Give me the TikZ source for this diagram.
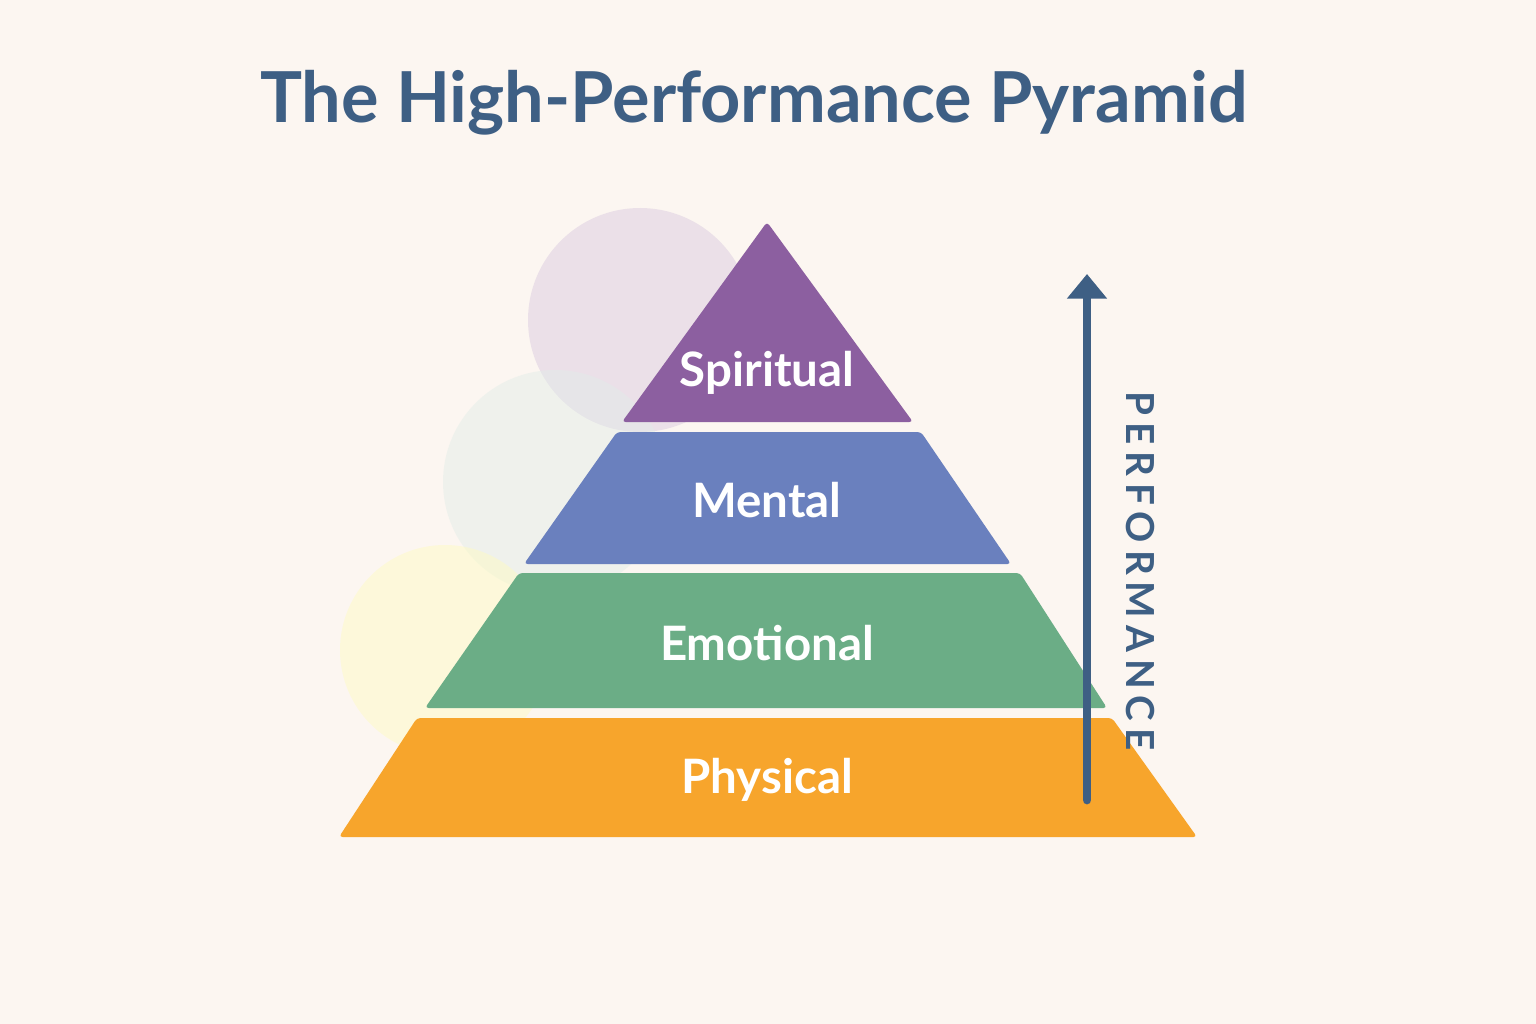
\documentclass[tikz,border=0pt]{standalone}
\usepackage{fontspec}
\setmainfont{Lato}
\usetikzlibrary{arrows.meta}
\definecolor{bgcol}{HTML}{FCF6F1}
\definecolor{titlecol}{HTML}{3E5F84}
\definecolor{spiritcol}{HTML}{8C5FA0}
\definecolor{mentalcol}{HTML}{6A80BE}
\definecolor{emocol}{HTML}{6BAD86}
\definecolor{physcol}{HTML}{F7A52C}
\tikzset{
  layer/.style={rounded corners=2pt},
  lbl/.style={text=white, font=\fontsize{27}{30}\selectfont\bfseries},
  blob/.style={opacity=0.45}
}
\begin{document}
\begin{tikzpicture}[x=0.02cm, y=-0.02cm]
		\fill[bgcol] (0,0) rectangle (1536,1024);
		% soft circles behind
		\fill[blob, fill=spiritcol!35] (640,320) circle (112);
		\fill[blob, fill=mentalcol!15!emocol!20] (555,482) circle (112);
		\fill[blob, fill=yellow!25] (445,650) circle (105);

		\node[text=titlecol, font=\fontsize{40}{44}\selectfont\bfseries] (title) at (754,103) {The High-Performance Pyramid};

		\fill[layer, spiritcol] (767,222) -- (913,422) -- (622,422) -- cycle;
		\fill[layer, mentalcol] (617,432) -- (921,432) -- (1011,564) -- (524,564) -- cycle;
		\fill[layer, emocol] (519,573) -- (1020,573) -- (1107,708) -- (425,708) -- cycle;
		\fill[layer, physcol] (417,718) -- (1112,718) -- (1197,837) -- (339,837) -- cycle;

		\node[lbl] (spiritual) at (767,373) {Spiritual};
		\node[lbl] (mental) at (767,500) {Mental};
		\node[lbl] (emotional) at (767,643) {Emotional};
		\node[lbl] (physical) at (767,780) {Physical};

		\coordinate (low) at (1087,800);
		\coordinate (high) at (1087,274);
		\draw[titlecol, line width=5pt, line cap=round, -{Triangle[width=22pt,length=14pt]}] (low) -- (high);
		\node[rotate=-90, text=titlecol, font=\fontsize{22}{24}\selectfont\bfseries\addfontfeature{LetterSpace=18}] (perf) at (1140,571) {PERFORMANCE};
	\end{tikzpicture}
\end{document}
